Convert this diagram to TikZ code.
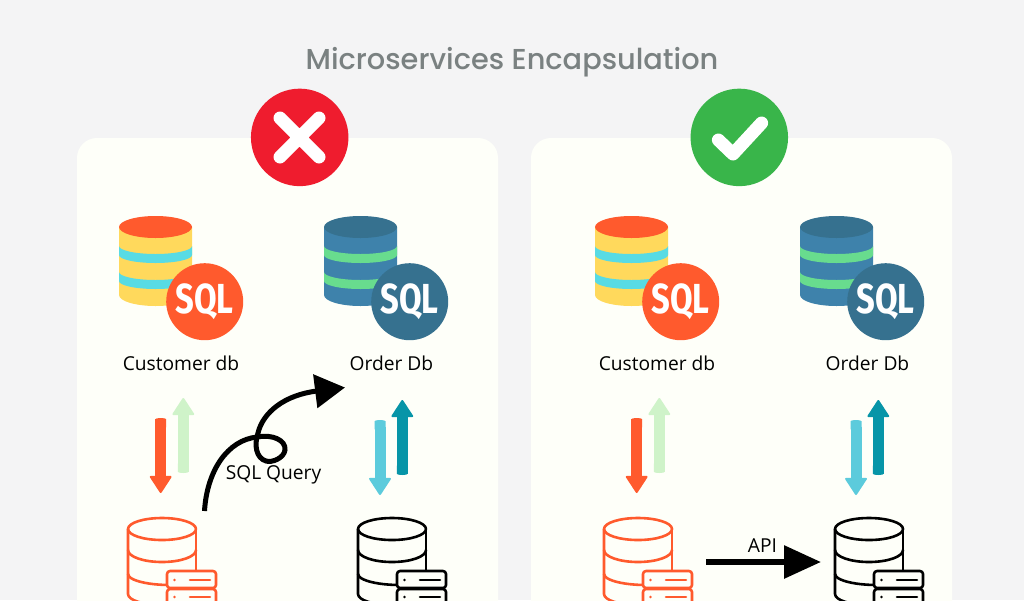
\documentclass[tikz,border=0pt]{standalone}
\usepackage{fontspec}
\usetikzlibrary{arrows.meta}
\setmainfont{Open Sans}
\newfontfamily\titlefont{Poppins Medium}
\newfontfamily\sqlfont{Fira Sans}
\definecolor{pagebg}{HTML}{F4F4F5}
\definecolor{panelbg}{HTML}{FEFFF9}
\definecolor{titlegray}{HTML}{7A8181}
\definecolor{crossred}{HTML}{EF1C2E}
\definecolor{checkgreen}{HTML}{39B54A}
\definecolor{orangec}{HTML}{FF5A2D}
\definecolor{yellowc}{HTML}{FFD95C}
\definecolor{cyanc}{HTML}{58DBE4}
\definecolor{bluec}{HTML}{3E82AB}
\definecolor{darkblue}{HTML}{36718F}
\definecolor{greenc}{HTML}{68DC8E}
\definecolor{palegreen}{HTML}{CFF3C9}
\definecolor{skyc}{HTML}{5CCBDC}
\definecolor{tealc}{HTML}{0795A8}
\tikzset{
  panel/.style={fill=panelbg,rounded corners=20pt},
  dblabel/.style={font=\fontsize{19.2}{22}\selectfont,text=black,inner sep=0pt,anchor=center},
  sqlbadge/.style={circle,minimum size=77pt,inner sep=0pt,text=white,font=\sqlfont\bfseries\fontsize{42}{42}\selectfont},
  blockarrow/.style={line width=11pt,draw=#1,{Round Cap[length=1.2pt]}-{Triangle[round,length=18pt,width=23pt,line width=2pt,fill=#1]}},
  sketcharrow/.style={line width=5pt,draw=black,-{Triangle[length=30pt,width=33pt]}},
  apiarrow/.style={line width=6pt,draw=black,-{Triangle[length=37pt,width=32pt]}},
  outlinedb/.style={line width=2.6pt,line cap=round,line join=round},
}
% cylinder with SQL badge: #1 x shift, #2 body, #3 top/badge, #4 stripes, #5 node name, #6 label name, #7 label, #8 label x
\newcommand{\sqlcyl}[8]{
  \begin{scope}[xshift=#1pt]
    \fill[#2] (119,227) -- (119,295) arc[start angle=180,end angle=0,x radius=36.5,y radius=11] -- (192,227) -- cycle;
    \fill[#4] (119,246) arc[start angle=180,end angle=0,x radius=36.5,y radius=8] -- (192,255) arc[start angle=0,end angle=180,x radius=36.5,y radius=8] -- cycle;
    \fill[#4] (119,272) arc[start angle=180,end angle=0,x radius=36.5,y radius=8] -- (192,281) arc[start angle=0,end angle=180,x radius=36.5,y radius=8] -- cycle;
    \fill[#3] (155.5,227) ellipse[x radius=36.5,y radius=11];
    \node[sqlbadge,fill=#3] (#5) at (204.7,301.7) {\raisebox{-1.5pt}{\scalebox{0.78}[1]{SQL}}};
    \node[dblabel] (#6) at (#8,363) {#7};
  \end{scope}
}
% outlined database: #1 x shift, #2 colour
\newcommand{\outlineicon}[2]{
  \begin{scope}[xshift=#1pt,draw=#2,outlinedb]
    \draw[#2,outlinedb] (128,529) -- (128,594) arc[start angle=180,end angle=90,x radius=34,y radius=11];
    \draw[#2,outlinedb] (196,529) -- (196,572);
    \draw[#2,outlinedb] (162,529) ellipse[x radius=34,y radius=11];
    \draw[#2,outlinedb] (128,550) arc[start angle=180,end angle=0,x radius=34,y radius=12];
    \draw[#2,outlinedb] (128,574) arc[start angle=180,end angle=70,x radius=42,y radius=11];
    \draw[#2,outlinedb,fill=panelbg,rounded corners=3pt] (167,571) rectangle (216,588);
    \draw[#2,outlinedb,fill=panelbg,rounded corners=3pt] (167,589) rectangle (216,607);
    \fill[#2] (174.5,580) circle[radius=1.3];
    \fill[#2] (174.5,597) circle[radius=1.3];
    \draw[#2,outlinedb] (190,580) -- (210,580);
    \draw[#2,outlinedb] (190,597) -- (210,597);
  \end{scope}
}
\begin{document}
\begin{tikzpicture}[x=1pt,y=-1pt]
\useasboundingbox (0,0) rectangle (1024,600);
\clip (0,0) rectangle (1024,600);
\fill[pagebg] (0,0) rectangle (1024,600);
\node[font=\titlefont\fontsize{28.8}{32}\selectfont,text=titlegray,inner sep=0pt] (title) at (512,62) {Microservices Encapsulation};
\fill[panel] (77,138) rectangle (498,640);
\fill[panel] (531,138) rectangle (952,640);
% badges
\node[circle,fill=crossred,minimum size=97.5pt,inner sep=0pt] (bad) at (299.7,137.4) {};
\draw[white,line width=13pt,line cap=round] (280,118) -- (319,157) (319,118) -- (280,157);
\node[circle,fill=checkgreen,minimum size=97.5pt,inner sep=0pt] (good) at (739.3,137.4) {};
\draw[white,line width=13pt,line cap=round,line join=round] (718.4,140) -- (733,154) -- (761.6,123);
% databases
\sqlcyl{0}{yellowc}{orangec}{cyanc}{sqlA}{custA}{Customer db}{181}
\sqlcyl{205}{bluec}{darkblue}{greenc}{sqlB}{ordA}{Order Db}{186.5}
\sqlcyl{476}{yellowc}{orangec}{cyanc}{sqlC}{custB}{Customer db}{181}
\sqlcyl{681}{bluec}{darkblue}{greenc}{sqlD}{ordB}{Order Db}{186.5}
\outlineicon{0}{orangec}
\outlineicon{230}{black}
\outlineicon{476}{orangec}
\outlineicon{707}{black}
% block arrows
\foreach \dx/\n in {0/a,476/b}{
  \begin{scope}[xshift=\dx pt]
    \coordinate (d1\n) at (160.7,418); \coordinate (d2\n) at (160.7,493);
    \coordinate (u1\n) at (183.3,473); \coordinate (u2\n) at (183.3,398);
    \coordinate (d3\n) at (380,420);   \coordinate (d4\n) at (380,495);
    \coordinate (u3\n) at (402.3,475); \coordinate (u4\n) at (402.3,400);
    \draw[blockarrow=palegreen] (u1\n) -- (u2\n);
    \draw[blockarrow=orangec] (d1\n) -- (d2\n);
    \draw[blockarrow=skyc] (d3\n) -- (d4\n);
    \draw[blockarrow=tealc] (u3\n) -- (u4\n);
  \end{scope}
}
% SQL query arrow
\coordinate (qs) at (204.5,511);
\coordinate (qe) at (345,387.5);
\draw[sketcharrow] (qs) .. controls (207,470) and (228,440) .. (257,437)
  .. controls (272,434) and (286,440) .. (285,450)
  .. controls (284,458) and (272,463) .. (266,461)
  .. controls (256,458) and (254,445) .. (258,433)
  .. controls (263,412) and (285,395) .. (qe);
\node[dblabel] (sqlq) at (273.5,475) {SQL Query};
% API arrow
\coordinate (as) at (706,562);
\coordinate (ae) at (821,562);
\draw[apiarrow] (as) -- (ae);
\node[dblabel] (api) at (762.5,546) {API};
\end{tikzpicture}
\end{document}
